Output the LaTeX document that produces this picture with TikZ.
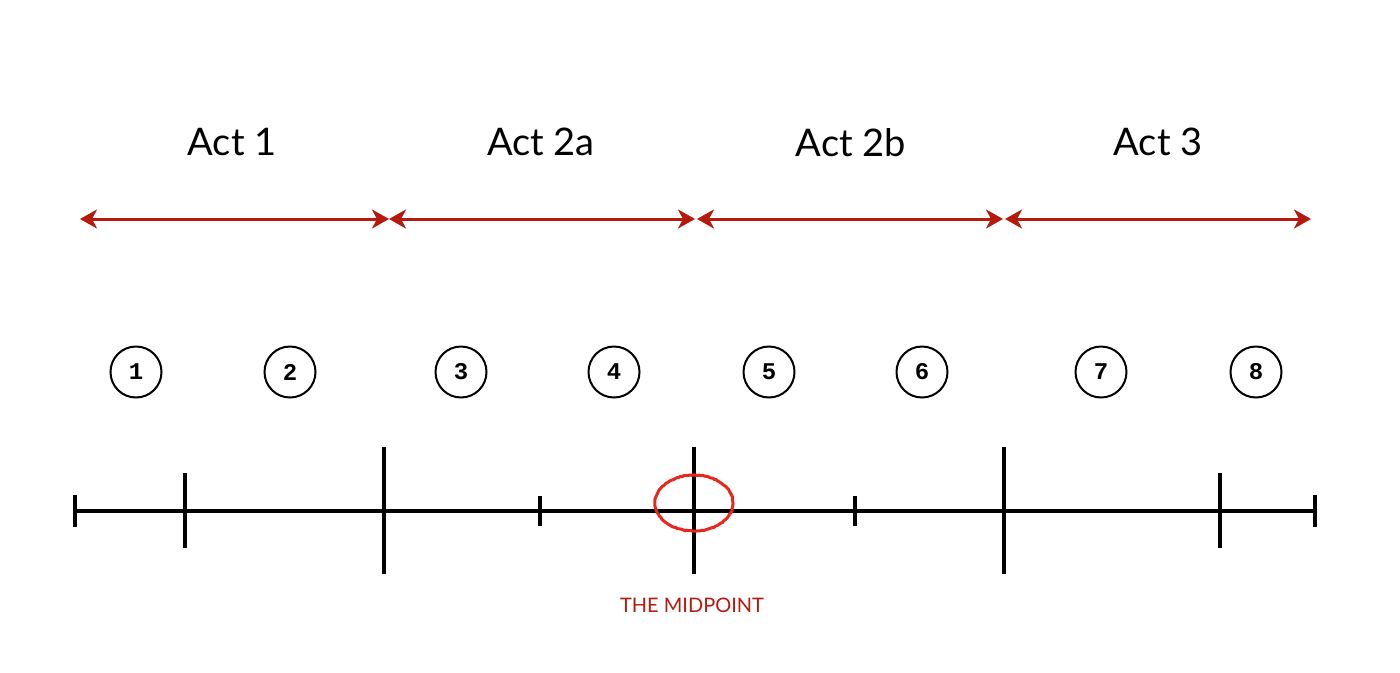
\documentclass[tikz,border=0pt]{standalone}
\usepackage{fontspec}
\setmainfont{Lato}
\newfontfamily\numfont{Liberation Mono}
\usetikzlibrary{arrows.meta,shapes.geometric,decorations.pathmorphing}
\definecolor{actred}{HTML}{B51A0C}
\definecolor{ringred}{HTML}{E8281C}
\begin{document}
\begin{tikzpicture}[x=1pt,y=-1pt,
  actlabel/.style={font=\fontsize{38}{40}\selectfont, inner sep=0pt},
  actarrow/.style={draw=actred, line width=3pt, {Stealth[length=17pt,width=19pt,inset=5pt]}-{Stealth[length=17pt,width=19pt,inset=5pt]}},
  numc/.style={circle, draw, line width=2pt, minimum size=51pt, inner sep=0pt, font=\numfont\bfseries\fontsize{24}{24}\selectfont},
  timeline/.style={line width=4pt, line cap=butt},
]
\useasboundingbox (0,0) rectangle (1400,672);
% act labels
\node[actlabel] (l1) at (232,142) {Act 1};
\node[actlabel] (l2) at (541,142) {Act 2a};
\node[actlabel] (l3) at (851,143) {Act 2b};
\node[actlabel] (l4) at (1158,142) {Act 3};
% arrows
\coordinate (a0) at (80,219);
\coordinate (a1l) at (389,219);
\coordinate (a1r) at (389,219);
\coordinate (a2l) at (695,219);
\coordinate (a2r) at (697,219);
\coordinate (a3l) at (1003,219);
\coordinate (a3r) at (1005,219);
\coordinate (a4) at (1311,219);
\draw[actarrow] (a0) -- (a1l);
\draw[actarrow] (a1r) -- (a2l);
\draw[actarrow] (a2r) -- (a3l);
\draw[actarrow] (a3r) -- (a4);
% numbered circles
\node[numc] (c1) at (136,372) {1};
\node[numc] (c2) at (290,372) {2};
\node[numc] (c3) at (461,372) {3};
\node[numc] (c4) at (614,372) {4};
\node[numc] (c5) at (769,372) {5};
\node[numc] (c6) at (922,372) {6};
\node[numc] (c7) at (1101,372) {7};
\node[numc] (c8) at (1256,372) {8};
% timeline
\coordinate (t0) at (75,511);
\coordinate (t1) at (185,511);
\coordinate (t2) at (384,511);
\coordinate (t3) at (540,511);
\coordinate (t4) at (694,511);
\coordinate (t5) at (855,511);
\coordinate (t6) at (1004,511);
\coordinate (t7) at (1220,511);
\coordinate (t8) at (1315,511);
\draw[timeline] (t0) -- (t8);
\foreach \p in {t0,t8} \draw[line width=4pt] (\p) ++(0,-16) -- ++(0,32);
\foreach \p in {t3,t5} \draw[line width=4pt] (\p) ++(0,-15) -- ++(0,30);
\foreach \p in {t1,t7} \draw[line width=4pt] (\p) ++(0,-38) -- ++(0,75);
\foreach \p in {t2,t4,t6} \draw[line width=4pt] (\p) ++(0,-64) -- ++(0,127);
% midpoint ring
\node[ellipse, draw=ringred, line width=3pt, minimum width=78pt, minimum height=56pt, inner sep=0pt,
  decorate, decoration={random steps, segment length=2pt, amplitude=0.4pt}] (ring) at (694,503) {};
\node[text=actred, font=\fontsize{20}{20}\selectfont, inner sep=0pt] (midlabel) at (692,605) {THE MIDPOINT};
\end{tikzpicture}
\end{document}
